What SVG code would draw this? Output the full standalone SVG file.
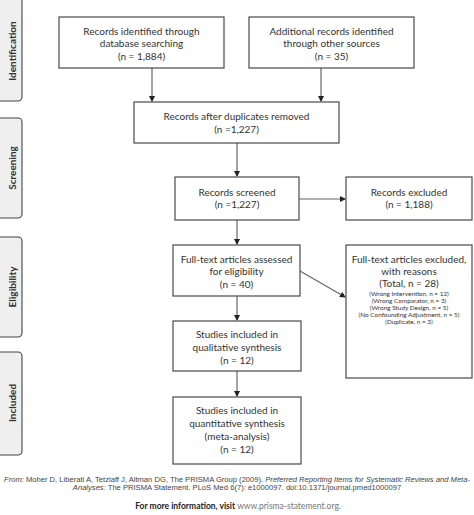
<svg xmlns="http://www.w3.org/2000/svg" width="474" height="515" viewBox="0 0 474 515">
<style>
.box{fill:#fff;stroke:#4a4a4a;stroke-width:1.2}
.tab{fill:#efefef;stroke:#444;stroke-width:1.1}
.t{font-family:Lato,"Noto Sans",sans-serif;font-size:10px;fill:#333;text-anchor:middle}
.tl{font-family:Lato,"Noto Sans",sans-serif;font-size:10px;font-weight:bold;fill:#333;text-anchor:middle}
.big{font-size:10px}
.sm{font-size:6.4px}
.c{stroke:#666;stroke-width:1.2;fill:none}
.f{font-family:"Liberation Sans",Arial,sans-serif;font-size:7.6px;fill:#444;text-anchor:middle}
</style>
<defs>
<marker id="ah" markerWidth="6" markerHeight="6" refX="5" refY="3" orient="auto" markerUnits="userSpaceOnUse">
<path d="M0,0 L6,3 L0,6 z" fill="#222"/>
</marker>
</defs>
<rect width="474" height="515" fill="#fff"/>
<g id="tab-identification"><rect class="tab" x="-6" y="-4" width="28" height="105" rx="4"/><text class="tl" transform="translate(15.5,51) rotate(-90)">Identification</text></g>
<g id="tab-screening"><rect class="tab" x="-6" y="118" width="28" height="100" rx="4"/><text class="tl" transform="translate(15.5,168) rotate(-90)">Screening</text></g>
<g id="tab-eligibility"><rect class="tab" x="-6" y="237" width="28" height="100" rx="4"/><text class="tl" transform="translate(15.5,287) rotate(-90)">Eligibility</text></g>
<g id="tab-included"><rect class="tab" x="-6" y="352" width="28" height="103" rx="4"/><text class="tl" transform="translate(15.5,403) rotate(-90)">Included</text></g>

<g id="connectors">
<line class="c" x1="152" y1="68" x2="152" y2="101" marker-end="url(#ah)"/>
<line class="c" x1="321" y1="68" x2="321" y2="101" marker-end="url(#ah)"/>
<line class="c" x1="237" y1="143" x2="237" y2="176" marker-end="url(#ah)"/>
<line class="c" x1="299" y1="199" x2="345" y2="199" marker-end="url(#ah)"/>
<line class="c" x1="237" y1="220" x2="237" y2="244" marker-end="url(#ah)"/>
<line class="c" x1="300" y1="271" x2="345" y2="297" marker-end="url(#ah)"/>
<line class="c" x1="237" y1="296" x2="237" y2="320" marker-end="url(#ah)"/>
<line class="c" x1="237" y1="371" x2="237" y2="396" marker-end="url(#ah)"/>
</g>

<g id="n-database"><rect class="box" x="59" y="17" width="165" height="51"/>
<text class="t" x="141.5" y="34.5">Records identified through</text>
<text class="t" x="141.5" y="47">database searching</text>
<text class="t" x="141.5" y="59.5">(n = 1,884)</text></g>

<g id="n-other"><rect class="box" x="249" y="17" width="165" height="51"/>
<text class="t" x="331.5" y="34.5">Additional records identified</text>
<text class="t" x="331.5" y="47">through other sources</text>
<text class="t" x="331.5" y="59.5">(n = 35)</text></g>

<g id="n-dedup"><rect class="box" x="134" y="102" width="205" height="41"/>
<text class="t" x="236.5" y="119.5">Records after duplicates removed</text>
<text class="t" x="236.5" y="132.5">(n =1,227)</text></g>

<g id="n-screened"><rect class="box" x="175" y="177" width="124" height="43"/>
<text class="t" x="237" y="195.5">Records screened</text>
<text class="t" x="237" y="208">(n =1,227)</text></g>

<g id="n-excluded"><rect class="box" x="346" y="177" width="126" height="43"/>
<text class="t" x="409" y="195.5">Records excluded</text>
<text class="t" x="409" y="208">(n = 1,188)</text></g>

<g id="n-fulltext"><rect class="box" x="173" y="245" width="127" height="51"/>
<text class="t" x="236.5" y="262.5">Full-text articles assessed</text>
<text class="t" x="236.5" y="275">for eligibility</text>
<text class="t" x="236.5" y="287.5">(n = 40)</text></g>

<g id="n-ftexcluded"><rect class="box" x="346" y="245" width="126" height="133"/>
<text class="t big" x="409" y="262.5">Full-text articles excluded,</text>
<text class="t big" x="409" y="275">with reasons</text>
<text class="t big" x="409" y="287">(Total, n = 28)</text>
<text class="t sm" x="409" y="296">(Wrong Intervention, n = 12)</text>
<text class="t sm" x="409" y="303">(Wrong Comparator, n = 3)</text>
<text class="t sm" x="409" y="310">(Wrong Study Design, n = 5)</text>
<text class="t sm" x="409" y="317">(No Confounding Adjustment, n = 5)</text>
<text class="t sm" x="409" y="324">(Duplicate, n = 3)</text></g>

<g id="n-qualitative"><rect class="box" x="173" y="321" width="128" height="50"/>
<text class="t" x="237" y="337.5">Studies included in</text>
<text class="t" x="237" y="350.5">qualitative synthesis</text>
<text class="t" x="237" y="363.5">(n = 12)</text></g>

<g id="n-quantitative"><rect class="box" x="173" y="397" width="128" height="67"/>
<text class="t" x="237" y="413.5">Studies included in</text>
<text class="t" x="237" y="426.5">quantitative synthesis</text>
<text class="t" x="237" y="439.5">(meta-analysis)</text>
<text class="t" x="237" y="452.5">(n = 12)</text></g>

<g id="footer">
<text class="f" x="237" y="482"><tspan font-style="italic">From:</tspan>  Moher D, Liberati A, Tetzlaff J, Altman DG, The PRISMA Group (2009). <tspan font-style="italic">Preferred Reporting Items for Systematic Reviews and Meta-</tspan></text>
<text class="f" x="237" y="490"><tspan font-style="italic">Analyses</tspan>: The PRISMA Statement. PLoS Med 6(7): e1000097. doi:10.1371/journal.pmed1000097</text>
<text x="238" y="509" style="font-family:Lato,'Noto Sans',sans-serif;font-size:8.5px;text-anchor:middle;fill:#222"><tspan font-weight="bold">For more information, visit</tspan> <tspan fill="#777">www.prisma-statement.org.</tspan></text>
</g>
</svg>
